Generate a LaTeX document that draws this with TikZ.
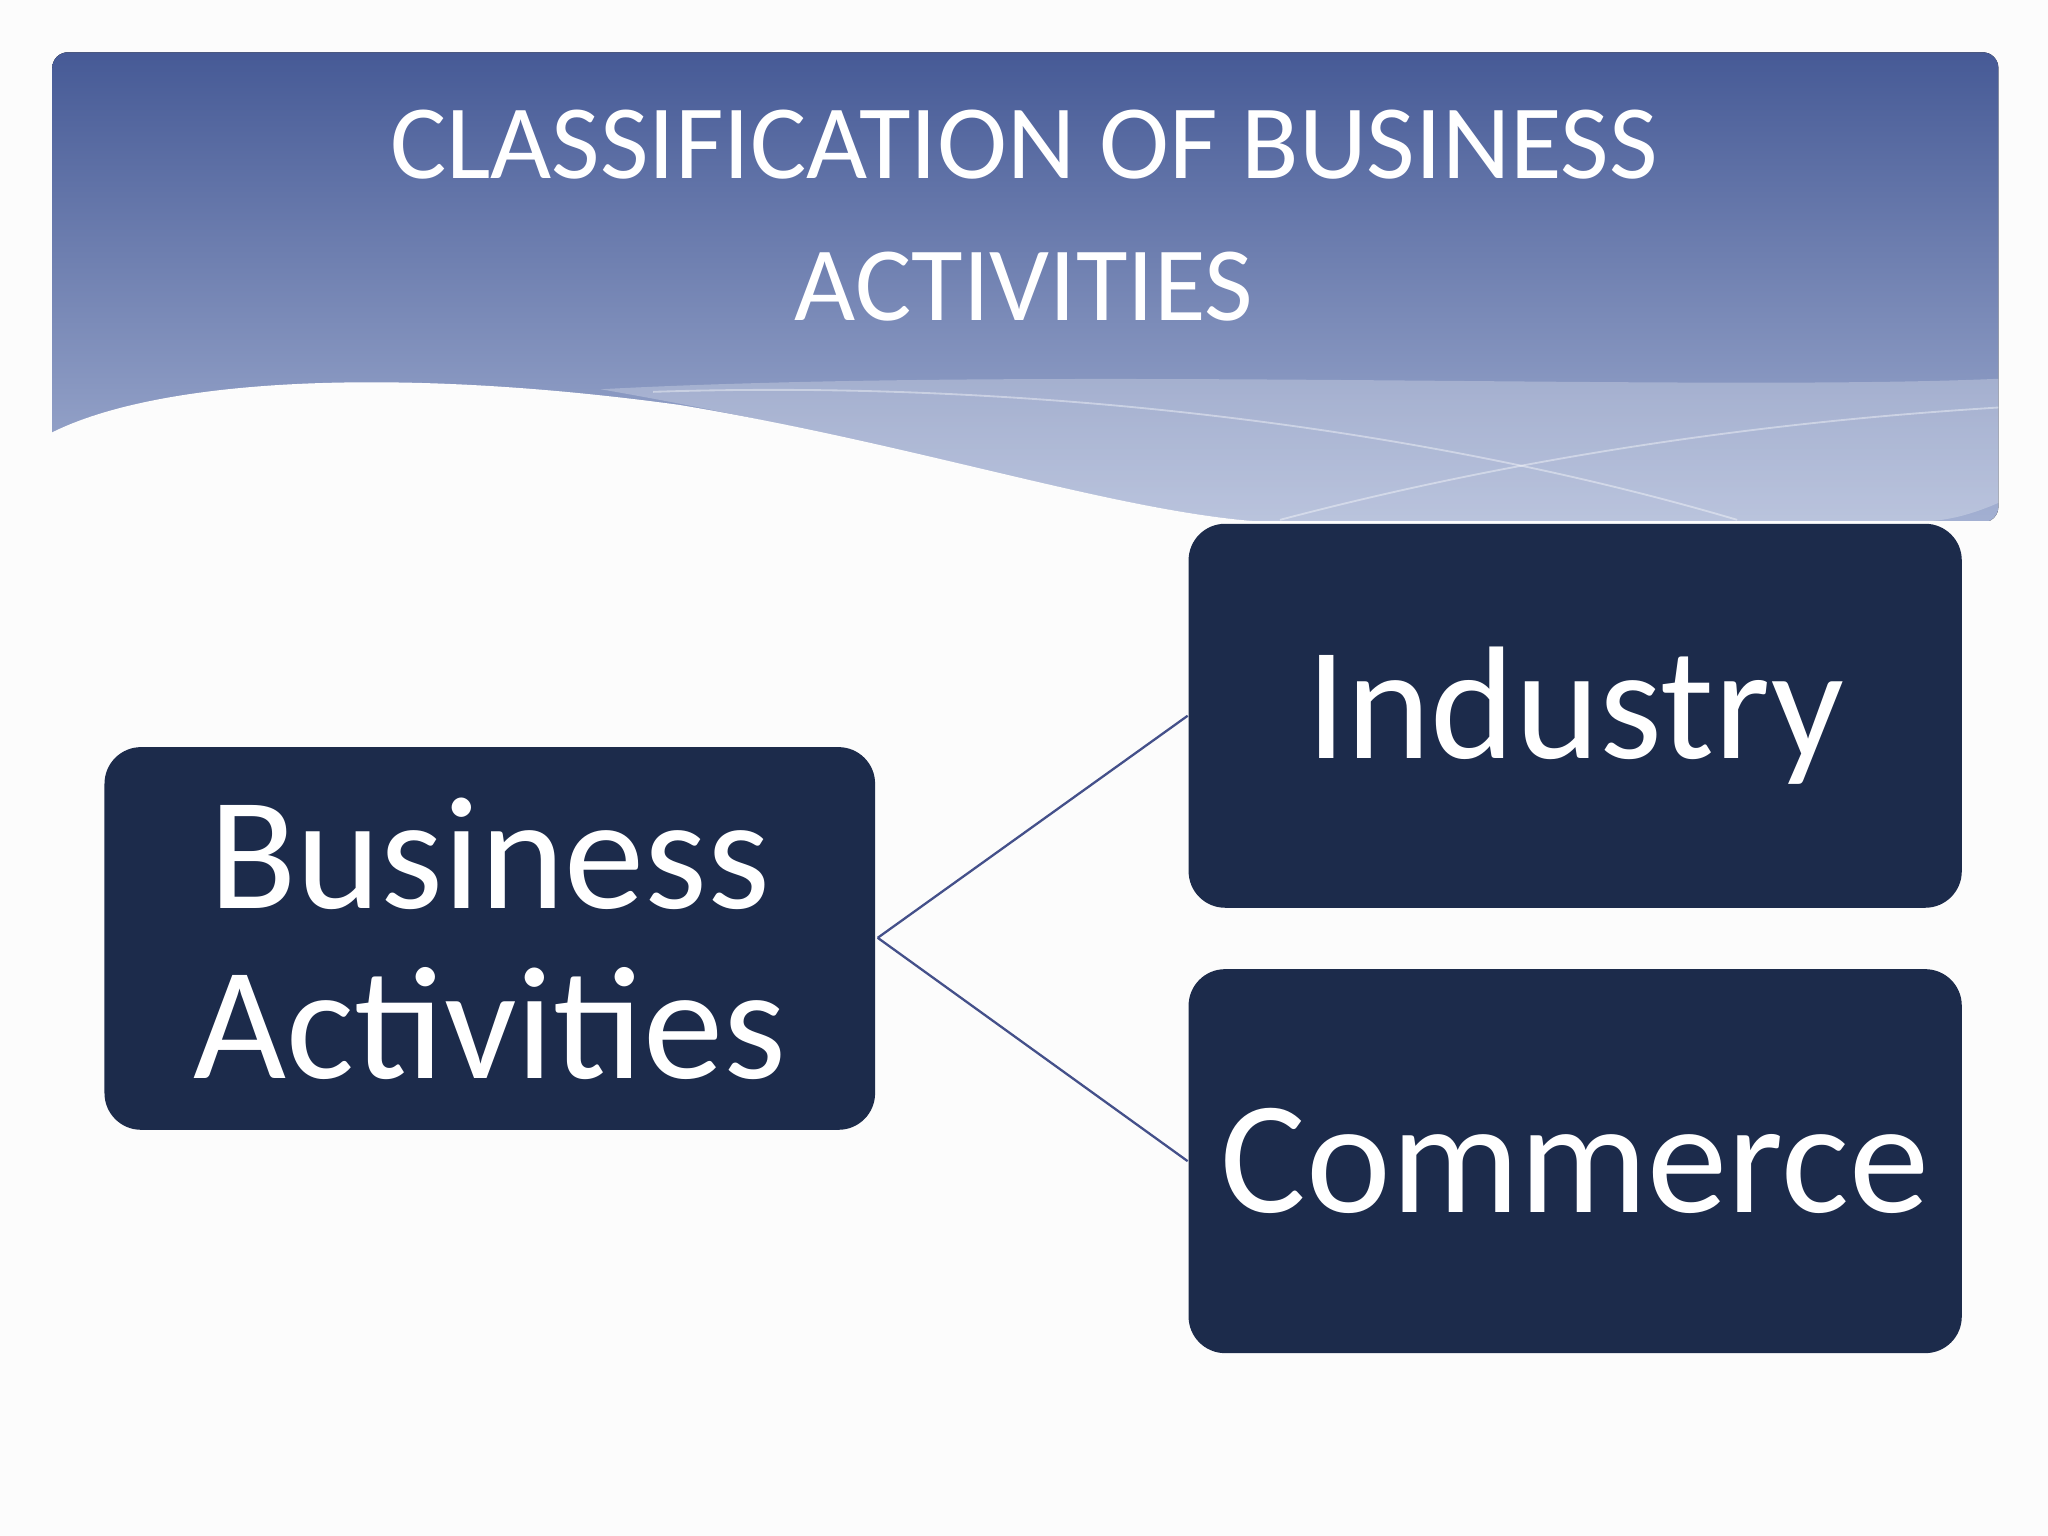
\documentclass[tikz,border=0pt]{standalone}
\usepackage{fontspec}
\setmainfont{Carlito}
\definecolor{boxc}{HTML}{1C2B4B}
\definecolor{hdtop}{HTML}{465A96}
\definecolor{hdbot}{HTML}{A3B0D2}
\definecolor{linec}{HTML}{44508A}
\tikzset{
 box/.style={fill=boxc,rounded corners=2.8mm,text=white,align=center,inner sep=0pt,font=\fontsize{35}{37}\selectfont},
 conn/.style={draw=linec,line width=0.5pt}
}
\begin{document}
\begin{tikzpicture}[x=0.1mm,y=-0.1mm]
\useasboundingbox (0,0) rectangle (1568,1176);
\fill[white!98!gray] (0,0) rectangle (1568,1176);
% header
\fill[top color=hdtop,bottom color=hdbot,rounded corners=1.2mm] (40,40) rectangle (1530,400);
\fill[white!98!gray] (38,332) .. controls (120,290) and (300,280) .. (520,310) .. controls (700,340) and (850,390) .. (960,399) -- (1532,399) -- (1532,420) -- (38,420) -- cycle;
\fill[white,opacity=0.25] (460,298) .. controls (800,280) and (1300,300) .. (1530,290) -- (1530,385) .. controls (1500,398) and (1480,400) .. (1460,399) -- (960,399) .. controls (850,390) and (700,340) .. (460,298) -- cycle;
\draw[white,opacity=0.4] (980,398) .. controls (1200,340) and (1400,320) .. (1530,312);
\draw[white,opacity=0.4] (500,300) .. controls (800,290) and (1100,330) .. (1330,398);
\node[text=white,align=center,font=\fontsize{23}{31}\selectfont] (title) at (784,165) {CLASSIFICATION OF BUSINESS\\ACTIVITIES};
% boxes
\node[box,minimum width=59mm,minimum height=29.3mm] (ba) at (375,718.5) {Business\\Activities};
\node[box,minimum width=59.2mm,minimum height=29.4mm] (ind) at (1206,548) {Industry};
\node[box,minimum width=59.2mm,minimum height=29.4mm] (com) at (1206,889) {Commerce};
\coordinate (p) at (672,718);
\draw[conn] (p) -- (ind.west);
\draw[conn] (p) -- (com.west);
\end{tikzpicture}
\end{document}
